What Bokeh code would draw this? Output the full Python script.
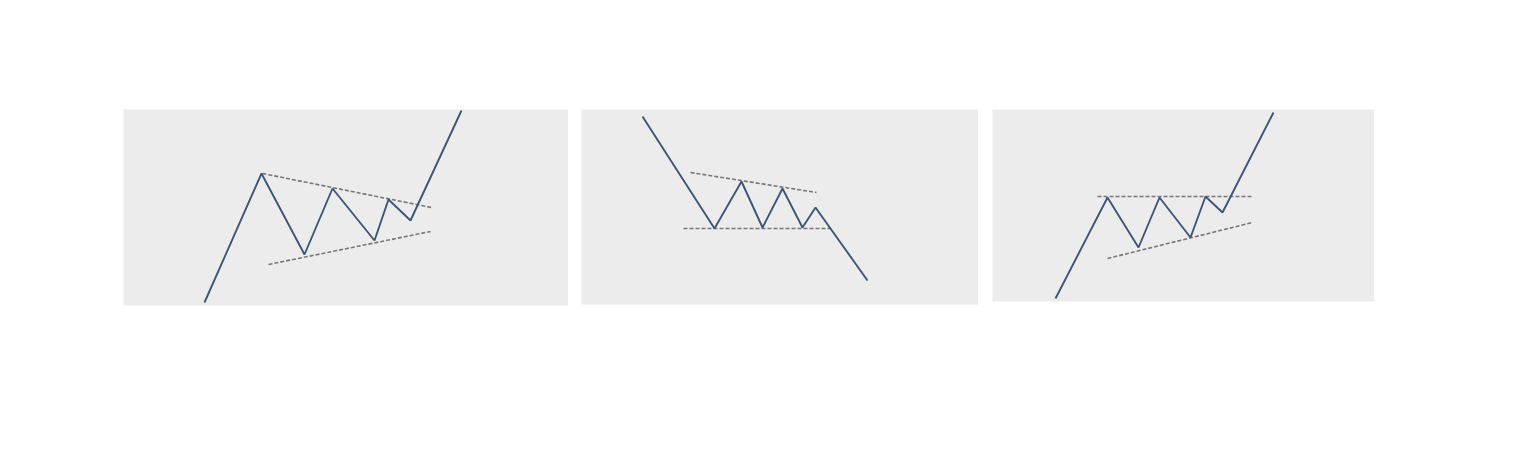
from bokeh.plotting import figure
from bokeh.models import Range1d
from bokeh.layouts import row
from bokeh.embed import file_html
from bokeh.resources import INLINE

# Pattern sketches: price path plus the two dashed trendlines per panel
# (units are arbitrary, measured from the panel's bottom-left corner)

# ascending / symmetrical-ish triangle breaking up
p1_x = [81, 138, 181, 209, 251, 265, 287, 338]
p1_y = [3, 132, 51, 117, 65, 106, 85, 195]
p1_upper_x = [139, 308]
p1_upper_y = [132, 98]
p1_lower_x = [145, 307]
p1_lower_y = [41, 74]

# descending triangle breaking down
p2_x = [61, 133, 160, 181, 201, 221, 234, 286]
p2_y = [188, 76, 123, 77, 116, 77, 97, 24]
p2_upper_x = [109, 235]
p2_upper_y = [132, 112]
p2_lower_x = [102, 249]
p2_lower_y = [76, 76]

# ascending triangle breaking up
p3_x = [63, 115, 146, 167, 198, 213, 230, 281]
p3_y = [3, 104, 54, 104, 64, 105, 89, 189]
p3_upper_x = [105, 260]
p3_upper_y = [105, 105]
p3_lower_x = [115, 260]
p3_lower_y = [43, 79]

LINE = "#3d5577"
DASH = "#777777"


def make_panel(w, h, left, xs, ys, ux, uy, lx, ly):
    p = figure(
        frame_width=w,
        frame_height=h,
        x_range=Range1d(0, w),
        y_range=Range1d(0, h),
        x_axis_location=None,
        y_axis_location=None,
        output_backend="svg",
        toolbar_location=None,
        min_border_left=left,
        min_border_right=0,
        min_border_top=109,
        min_border_bottom=10,
    )
    p.background_fill_color = "#ececec"
    p.border_fill_color = "white"
    p.outline_line_color = None
    p.grid.visible = False
    p.line(ux, uy, line_color=DASH, line_width=1.6, line_dash="4 2")
    p.line(lx, ly, line_color=DASH, line_width=1.6, line_dash="4 2")
    p.line(xs, ys, line_color=LINE, line_width=1.9)
    return p


f1 = make_panel(445, 196, 123, p1_x, p1_y, p1_upper_x, p1_upper_y, p1_lower_x, p1_lower_y)
f2 = make_panel(397, 195, 13, p2_x, p2_y, p2_upper_x, p2_upper_y, p2_lower_x, p2_lower_y)
f3 = make_panel(382, 192, 14, p3_x, p3_y, p3_upper_x, p3_upper_y, p3_lower_x, p3_lower_y)

layout = row(f1, f2, f3)

open("out.html", "w").write(file_html(layout, INLINE))
